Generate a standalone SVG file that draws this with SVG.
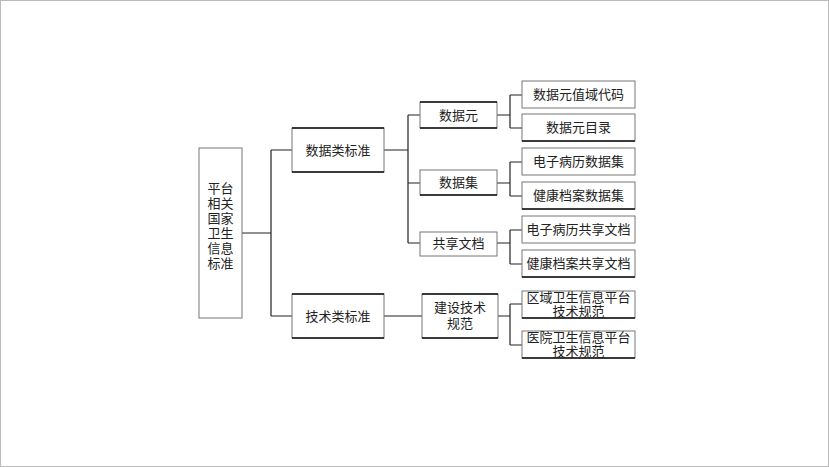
<svg xmlns="http://www.w3.org/2000/svg" width="829" height="467" viewBox="0 0 829 467">
<style>
.b{fill:#fff;stroke:#777;stroke-width:1}
.s{stroke:#111;stroke-width:1.6;fill:none}
.c{stroke:#222;stroke-width:1.2;fill:none}
text{font-family:"Liberation Serif","Noto Sans CJK SC",serif;font-size:13px;fill:#222;text-anchor:middle}
</style>
<rect x="0.5" y="0.5" width="828" height="466" fill="#fff" stroke="#bbb"/>
<g id="connectors" class="c">
<path d="M242 233H271M271 150V316M271 150H292M271 316H292"/>
<path d="M384 150H408M408 115V243M408 115H420M408 183H420M408 243H420"/>
<path d="M497 115H510M510 95V128M510 95H522M510 128H522"/>
<path d="M497 183H510M510 162V196M510 162H522M510 196H522"/>
<path d="M497 243H510M510 230V264M510 230H522M510 264H522"/>
<path d="M384 316H422"/>
<path d="M498 316H510M510 304V345M510 304H522M510 345H522"/>
</g>
<g id="root"><rect class="b" x="199" y="148" width="43" height="170"/><text x="220.5" y="193">平台</text><text x="220.5" y="208">相关</text><text x="220.5" y="223">国家</text><text x="220.5" y="238">卫生</text><text x="220.5" y="253">信息</text><text x="220.5" y="268">标准</text></g>
<g id="data"><rect class="b" x="292" y="128" width="92" height="44"/><path class="s" d="M292 128H384M292 172H384"/><text x="338" y="155">数据类标准</text></g>
<g id="tech"><rect class="b" x="292" y="294" width="92" height="44"/><path class="s" d="M292 294H384M292 338H384"/><text x="338" y="321">技术类标准</text></g>
<g id="de"><rect class="b" x="420" y="102" width="77" height="26"/><path class="s" d="M420 102H497M420 128H497"/><text x="458.5" y="120">数据元</text></g>
<g id="ds"><rect class="b" x="420" y="170" width="77" height="25"/><path class="s" d="M420 195H497"/><text x="458.5" y="187">数据集</text></g>
<g id="doc"><rect class="b" x="420" y="232" width="77" height="24"/><text x="458.5" y="248">共享文档</text></g>
<g id="build"><rect class="b" x="422" y="294" width="76" height="44"/><path class="s" d="M422 294H498M422 338H498"/><text x="460" y="312">建设技术</text><text x="460" y="328">规范</text></g>
<g id="l1"><rect class="b" x="522" y="81" width="113" height="27"/><text x="578.5" y="99">数据元值域代码</text></g>
<g id="l2"><rect class="b" x="522" y="114" width="113" height="27"/><path class="s" d="M522 141H635"/><text x="578.5" y="132">数据元目录</text></g>
<g id="l3"><rect class="b" x="522" y="148" width="113" height="27"/><text x="578.5" y="166">电子病历数据集</text></g>
<g id="l4"><rect class="b" x="522" y="182" width="113" height="27"/><path class="s" d="M522 209H635"/><text x="578.5" y="200">健康档案数据集</text></g>
<g id="l5"><rect class="b" x="522" y="216" width="113" height="27"/><text x="578.5" y="234">电子病历共享文档</text></g>
<g id="l6"><rect class="b" x="522" y="250" width="113" height="27"/><path class="s" d="M522 277H635"/><text x="578.5" y="268">健康档案共享文档</text></g>
<g id="l7"><rect class="b" x="522" y="291" width="113" height="27"/><path class="s" d="M522 318H635"/><text x="578.5" y="302">区域卫生信息平台</text><text x="578.5" y="316">技术规范</text></g>
<g id="l8"><rect class="b" x="522" y="331" width="113" height="27"/><path class="s" d="M522 358H635"/><text x="578.5" y="342">医院卫生信息平台</text><text x="578.5" y="356">技术规范</text></g>
</svg>
